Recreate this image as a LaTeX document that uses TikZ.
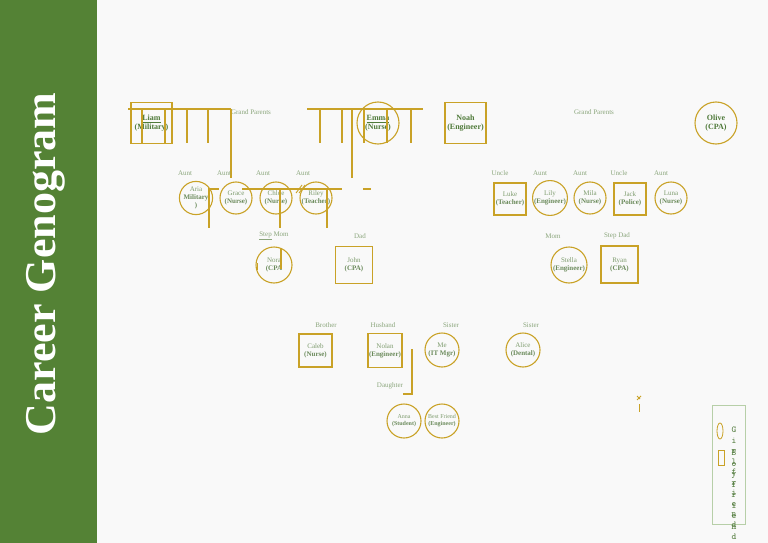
\documentclass[tikz,border=0pt]{standalone}
\usepackage{fontspec}
\setmainfont{Liberation Serif}
\usetikzlibrary{shapes.geometric}
\definecolor{band}{HTML}{548235}
\definecolor{gold}{HTML}{C9A227}
\definecolor{lbl}{HTML}{8BA67C}
\definecolor{nm}{HTML}{7E9C6E}
\definecolor{occ}{HTML}{6A8A5A}
\definecolor{top}{HTML}{4F7A3A}
\definecolor{legb}{HTML}{B7CFA8}
\tikzset{
  ln/.style={draw=gold, line width=1.3pt},
  sq/.style={draw=gold, line width=1.1pt, minimum size=32pt, inner sep=0pt, align=center, font=\fontsize{7}{8}\selectfont, text=nm},
  ci/.style={draw=gold, line width=1.1pt, circle, minimum size=32pt, inner sep=0pt, align=center, font=\fontsize{7}{8}\selectfont, text=nm},
  bigsq/.style={sq, minimum size=41pt, font=\fontsize{8}{9}\selectfont\bfseries, text=top},
  bigci/.style={ci, minimum size=42pt, font=\fontsize{8}{9}\selectfont\bfseries, text=top},
  rel/.style={font=\fontsize{7}{8}\selectfont, text=lbl, inner sep=0pt},
}
\newcommand{\oc}[1]{\textbf{\color{occ}#1}}
\begin{document}
\begin{tikzpicture}[x=1pt,y=-1pt]
\useasboundingbox (0,0) rectangle (768,543);
\fill[fill={rgb,255:red,249;green,249;blue,249}] (0,0) rectangle (768,543);
\fill[band] (0,0) rectangle (97,543);
\node[rotate=90, text=white, font=\fontsize{44}{44}\selectfont\bfseries] (title) at (46,264) {Career Genogram};

% top row
\node[bigsq] (liam) at (151.5,123) {\underline{Liam}\\(Military)};
\node[bigci] (emma) at (378,123) {\underline{Emma}\\(Nurse)};
\node[bigsq] (noah) at (465.5,123) {Noah\\(Engineer)};
\node[bigci] (olive) at (716,123) {Olive\\(CPA)};
\node[rel] (gp1) at (251,112) {Grand Parents};
\node[rel] (gp2) at (594,112) {Grand Parents};

% lines top-left
\coordinate (a1) at (128,109); \coordinate (a2) at (231,109);
\draw[ln] (a1) -- (a2);
\foreach \x in {142,165,187,208} \draw[ln] (\x,109) -- (\x,143);
\coordinate (a3) at (231,178);
\draw[ln] (a2) -- (a3);
\coordinate (b1) at (307,109); \coordinate (b2) at (423,109);
\draw[ln] (b1) -- (b2);
\foreach \x in {320,342,364,387,411} \draw[ln] (\x,109) -- (\x,143);
\coordinate (b3) at (352,109); \coordinate (b4) at (352,178);
\draw[ln] (b3) -- (b4);

% second row labels
\foreach \x/\t in {185/Aunt,224/Aunt,263/Aunt,303/Aunt,500/Uncle,540/Aunt,580/Aunt,619/Uncle,661/Aunt}
  \node[rel] at (\x,173) {\t};

\node[ci] (aria) at (196,198) {Aria\\\oc{Military}\\\oc{)}};
\node[ci] (grace) at (236,198) {Grace\\\oc{(Nurse)}};
\node[ci] (chloe) at (276,198) {Chloe\\\oc{(Nurse)}};
\node[ci] (riley) at (316,198) {Riley\\\oc{(Teacher)}};
\node[sq] (luke) at (510,199) {Luke\\\oc{(Teacher)}};
\node[ci] (lily) at (550,198) {Lily\\\oc{(Engineer)}};
\node[ci] (mila) at (590,198) {Mila\\\oc{(Nurse)}};
\node[sq] (jack) at (630,199) {Jack\\\oc{(Police)}};
\node[ci] (luna) at (671,198) {Luna\\\oc{(Nurse)}};

% sibling lines
\draw[ln] (208,189) -- (219,189);
\draw[ln] (242,189) -- (342,189);
\draw[ln] (363,189) -- (371,189);
\foreach \x in {209,280,327} \draw[ln] (\x,189) -- (\x,228);
\draw[ln, line width=0.9pt] (296,193) -- (302,185) (299,193) -- (305,185);

% third row
\node[rel] at (274,236) {\underline{Step} Mom};
\node[rel] at (360,236) {Dad};
\node[rel] at (553,236) {Mom};
\node[rel] at (617,236) {Step Dad};
\node[ci, minimum size=36pt] (nora) at (274,265) {Nora\\\oc{(CPA}};
\node[sq, minimum size=37pt] (john) at (354,265) {John\\\oc{(CPA)}};
\node[ci, minimum size=36pt] (stella) at (569,265) {Stella\\\oc{(Engineer)}};
\node[sq, minimum size=37pt] (ryan) at (619.5,264.5) {Ryan\\\oc{(CPA)}};
\draw[ln] (281,248) -- (281,269);
\draw[ln, line width=0.6pt] (257,263) -- (257,270);

% fourth row
\node[rel] at (326,325) {Brother};
\node[rel] at (383,325) {Husband};
\node[rel] at (451,325) {Sister};
\node[rel] at (531,325) {Sister};
\node[sq, minimum size=33pt] (caleb) at (315.5,350.5) {Caleb\\\oc{(Nurse)}};
\node[sq, minimum size=34pt] (nolan) at (385,350.5) {Nolan\\\oc{(Engineer)}};
\node[ci, minimum size=34pt] (me) at (442,350) {Me\\\oc{(IT Mgr)}};
\node[ci, minimum size=34pt] (alice) at (523,350) {Alice\\\oc{(Dental)}};
\coordinate (d1) at (412,349); \coordinate (d2) at (412,394); \coordinate (d3) at (403,394);
\draw[ln] (d1) -- (d2) -- (d3);
\node[rel] at (390,386) {Daughter};
\node[ci, minimum size=34pt, font=\fontsize{6}{7}\selectfont] (anna) at (404,421) {Anna\\\oc{(Student)}};
\node[ci, minimum size=34pt, font=\fontsize{6}{7}\selectfont] (bf) at (442,421) {Best Friend\\\oc{(Engineer)}};

% stray mark
\draw[ln, line width=0.8pt] (637,400) -- (641,396) (637,396) -- (640,399);
\draw[ln, line width=0.8pt] (639,404) -- (639,412);

% legend
\draw[draw=legb, line width=0.8pt] (712,405) rectangle (745,524);
\node[draw=gold, line width=0.8pt, ellipse, minimum width=6pt, minimum height=16pt, inner sep=0pt] (lg1) at (720,431) {};
\node[draw=gold, line width=0.8pt, rectangle, minimum width=6pt, minimum height=15pt, inner sep=0pt] (lg2) at (721,458) {};
\node[anchor=north, align=center, font=\ttfamily\fontsize{9}{10.5}\selectfont, text=top, inner sep=0pt] (lt1) at (734,427) {G\\i\\r\\l\\f\\r\\i\\e\\n\\d};
\node[anchor=north, align=center, font=\ttfamily\fontsize{9}{10.5}\selectfont, text=top, inner sep=0pt] (lt2) at (734,450) {B\\o\\y\\f\\r\\i\\e\\n\\d};
\end{tikzpicture}
\end{document}
